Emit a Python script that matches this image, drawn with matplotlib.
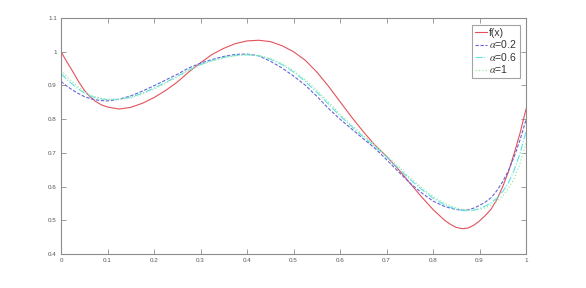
import numpy as np
import matplotlib
matplotlib.use("Agg")
import matplotlib.pyplot as plt

# Stuetzstellen (an den Raendern dichter)
x = [0.0, 0.0125, 0.025, 0.0375, 0.05, 0.0625, 0.075, 0.0875, 0.1,
     0.125, 0.15, 0.175, 0.2, 0.225, 0.25, 0.275, 0.3, 0.325, 0.35,
     0.375, 0.4, 0.425, 0.45, 0.475, 0.5, 0.525, 0.55, 0.575, 0.6,
     0.625, 0.65, 0.675, 0.7, 0.725, 0.75, 0.775, 0.8, 0.825,
     0.8375, 0.85, 0.8625, 0.875, 0.8875, 0.9, 0.9125,
     0.925, 0.9375, 0.95, 0.9625, 0.975, 0.9875, 1.0]

f_x = [1.000, 0.970, 0.942, 0.912, 0.886, 0.866, 0.852, 0.842, 0.836,
       0.830, 0.835, 0.847, 0.864, 0.885, 0.910, 0.940, 0.967, 0.992, 1.010,
       1.024, 1.032, 1.034, 1.030, 1.018, 1.000, 0.975, 0.940, 0.898, 0.852,
       0.806, 0.763, 0.723, 0.690, 0.652, 0.611, 0.570, 0.532, 0.500,
       0.488, 0.479, 0.475, 0.477, 0.485, 0.498, 0.514,
       0.533, 0.562, 0.600, 0.645, 0.700, 0.760, 0.830]

alpha_02 = [0.912, 0.898, 0.886, 0.876, 0.867, 0.861, 0.857, 0.855, 0.854,
            0.859, 0.869, 0.883, 0.899, 0.916, 0.933, 0.952, 0.966, 0.977, 0.986,
            0.992, 0.993, 0.988, 0.972, 0.952, 0.928, 0.901, 0.868, 0.832, 0.800,
            0.771, 0.742, 0.714, 0.680, 0.645, 0.611, 0.582, 0.557, 0.541,
            0.536, 0.532, 0.530, 0.531, 0.536, 0.544, 0.554,
            0.567, 0.588, 0.615, 0.648, 0.690, 0.740, 0.798]

alpha_06 = [0.935, 0.918, 0.903, 0.889, 0.878, 0.869, 0.863, 0.860, 0.858,
            0.859, 0.865, 0.877, 0.892, 0.909, 0.927, 0.946, 0.962, 0.974, 0.983,
            0.989, 0.991, 0.988, 0.978, 0.962, 0.940, 0.912, 0.880, 0.845, 0.810,
            0.778, 0.748, 0.719, 0.688, 0.655, 0.622, 0.592, 0.566, 0.546,
            0.539, 0.533, 0.529, 0.528, 0.530, 0.535, 0.542,
            0.552, 0.566, 0.585, 0.612, 0.650, 0.700, 0.763]

alpha_1 = [0.945, 0.926, 0.910, 0.895, 0.882, 0.872, 0.866, 0.861, 0.859,
           0.858, 0.863, 0.874, 0.889, 0.906, 0.925, 0.944, 0.960, 0.973, 0.982,
           0.988, 0.991, 0.989, 0.980, 0.965, 0.944, 0.917, 0.886, 0.851, 0.815,
           0.782, 0.752, 0.723, 0.692, 0.660, 0.627, 0.597, 0.571, 0.551,
           0.543, 0.537, 0.533, 0.530, 0.530, 0.532, 0.537,
           0.545, 0.556, 0.572, 0.595, 0.625, 0.670, 0.730]

x_ticks = [0, 0.1, 0.2, 0.3, 0.4, 0.5, 0.6, 0.7, 0.8, 0.9, 1]
x_labels = ["0", "0.1", "0.2", "0.3", "0.4", "0.5", "0.6", "0.7", "0.8", "0.9", "1"]
y_ticks = [0.4, 0.5, 0.6, 0.7, 0.8, 0.9, 1.0, 1.1]
y_labels = ["0.4", "0.5", "0.6", "0.7", "0.8", "0.9", "1", "1.1"]

plt.rcParams["font.family"] = ["Liberation Sans", "DejaVu Sans"]
plt.rcParams["mathtext.fontset"] = "stix"

fig = plt.figure(figsize=(5.86, 2.88), dpi=100)
ax = fig.add_axes([61 / 586, 34 / 288, 465 / 586, 236 / 288])

ax.plot(x, f_x, "-", color="#e3525a", linewidth=0.8, label="f(x)")
ax.plot(x, alpha_02, "--", color="#6464d8", linewidth=0.8, dashes=(3, 1.5),
        label=r"$\alpha$=0.2")
ax.plot(x, alpha_06, "-.", color="#5ee3e3", linewidth=0.8, label=r"$\alpha$=0.6")
ax.plot(x, alpha_1, ":", color="#a6e6a6", linewidth=0.9, label=r"$\alpha$=1")

ax.set_xlim(0, 1)
ax.set_ylim(0.4, 1.1)
ax.set_xticks(x_ticks)
ax.set_xticklabels(x_labels)
ax.set_yticks(y_ticks)
ax.set_yticklabels(y_labels)

achsfarbe = "#8c8c8c"
for s in ax.spines.values():
    s.set_color(achsfarbe)
    s.set_linewidth(0.8)
ax.tick_params(direction="in", length=3.5, width=0.6, color=achsfarbe,
               labelsize=4.5, labelcolor="#555555", top=True, right=True, pad=3)

leg = ax.legend(loc="upper right", bbox_to_anchor=(0.991, 0.979), fontsize=7.5,
                frameon=True, fancybox=False, handlelength=1.2, handletextpad=0.2,
                borderpad=0.25, labelspacing=0.05, borderaxespad=0.2)
leg.get_frame().set_edgecolor(achsfarbe)
leg.get_frame().set_linewidth(0.8)
for t in leg.get_texts():
    t.set_color("#333333")

fig.savefig("out.png", dpi=100)
